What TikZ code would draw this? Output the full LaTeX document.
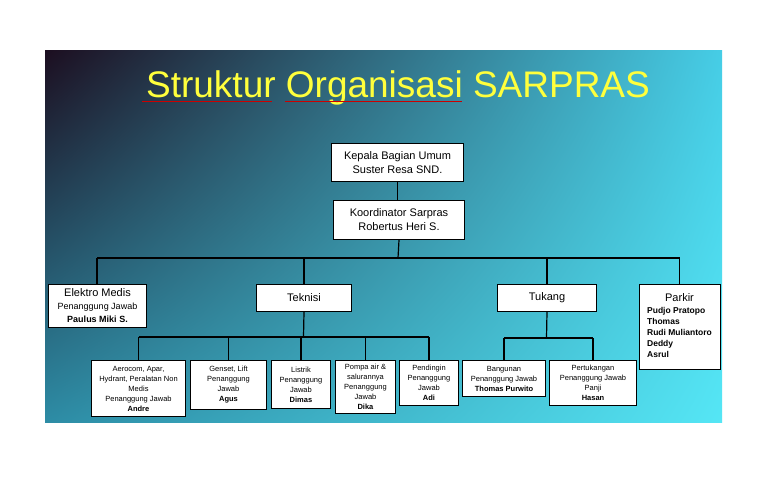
\documentclass[tikz,border=0pt]{standalone}
\usepackage{fontspec}
\usetikzlibrary{shadings}
\setmainfont{Liberation Sans}
\definecolor{cUL}{RGB}{28,14,32}
\definecolor{cUR}{RGB}{70,205,230}
\definecolor{cLL}{RGB}{45,140,165}
\definecolor{cLR}{RGB}{85,230,245}
\definecolor{titley}{RGB}{255,255,60}
\begin{document}
\begin{tikzpicture}[x=1pt,y=-1pt,
 box/.style={draw=black,line width=1pt,fill=white,inner sep=2pt,align=center,anchor=north west},
 ln/.style={line width=1.2pt,black},
 sq/.style={red!80!black,line width=0.6pt}]
\useasboundingbox (0,0) rectangle (768,501);
\fill[white] (0,0) rectangle (768,501);
\shade[upper left=cUL,upper right=cUR,lower left=cLL,lower right=cLR] (45,50) rectangle (722,422);
\node[text=titley,font=\fontsize{37}{40}\selectfont,anchor=base,inner sep=0pt] (title) at (398,97) {Struktur Organisasi SARPRAS};
\draw[sq] (142,101) -- (272,101);
\draw[sq] (285,101) -- (462,101);
% boxes
\node[box,minimum width=132pt,minimum height=38pt,font=\fontsize{11}{14}\selectfont] (kep) at (331,143) {Kepala Bagian Umum\\Suster Resa SND.};
\node[box,minimum width=131pt,minimum height=39pt,font=\fontsize{11}{14}\selectfont] (kor) at (333,200) {Koordinator Sarpras\\Robertus Heri S.};
\node[box,minimum width=98pt,minimum height=43pt,font=\fontsize{11}{13}\selectfont,inner sep=1pt] (ele) at (48,284) {Elektro Medis\\{\fontsize{9}{12}\selectfont Penanggung Jawab}\\{\fontsize{9}{12}\selectfont\bfseries Paulus Miki S.}};
\node[box,minimum width=95pt,minimum height=27pt,font=\fontsize{11}{13}\selectfont] (tek) at (256,284) {Teknisi};
\node[box,minimum width=99pt,minimum height=27pt,font=\fontsize{11}{13}\selectfont] (tuk) at (497,284) {Tukang};
\node[box,minimum width=81pt,minimum height=85pt,font=\fontsize{11}{13}\selectfont,anchor=north,inner sep=1pt] (par) at (679.5,284) {Parkir\\[3pt]{\fontsize{8.5}{11}\selectfont\bfseries\begin{tabular}{@{}l@{}}Pudjo Pratopo\\Thomas\\Rudi Muliantoro\\Deddy\\Asrul\end{tabular}}};
\begin{scope}[font=\fontsize{7.5}{10}\selectfont]
\node[box,minimum width=94pt,minimum height=56pt,inner sep=1pt] (aer) at (91,360) {Aerocom, Apar,\\Hydrant, Peralatan Non\\Medis\\Penanggung Jawab\\\textbf{Andre}};
\node[box,minimum width=76pt,minimum height=49pt] (gen) at (190,360) {Genset, Lift\\Penanggung\\Jawab\\\textbf{Agus}};
\node[box,minimum width=59pt,minimum height=48pt] (lis) at (271,360) {Listrik\\Penanggung\\Jawab\\\textbf{Dimas}};
\node[box,minimum width=60pt,minimum height=53pt,inner sep=1pt] (pom) at (335,360) {Pompa air \&\\salurannya\\Penanggung\\Jawab\\\textbf{Dika}};
\node[box,minimum width=59pt,minimum height=45pt] (pen) at (399,360) {Pendingin\\Penanggung\\Jawab\\\textbf{Adi}};
\node[box,minimum width=83pt,minimum height=36pt,inner sep=1pt] (ban) at (462,360) {Bangunan\\Penanggung Jawab\\\textbf{Thomas Purwito}};
\node[box,minimum width=87pt,minimum height=45pt,inner sep=1pt] (per) at (549,360) {Pertukangan\\Penanggung Jawab\\Panji\\\textbf{Hasan}};
\end{scope}
% connectors
\coordinate (h1) at (398,258);
\draw[ln] (kep.south) -- (kep.south |- kor.north);
\draw[ln] (kor.south) -- (h1);
\draw[ln] (97,258) -- (679.5,258);
\draw[ln] (97,258) -- (97,284);
\draw[ln] (tek.north) -- (tek.north |- h1);
\draw[ln] (tuk.north) -- (tuk.north |- h1);
\draw[ln] (par.north) -- (par.north |- h1);
\draw[ln] (tek.south) -- (303.5,337);
\draw[ln] (aer.north |- 0,337) -- (428.5,337);
\foreach \n in {aer,gen,lis,pom,pen} \draw[ln] (\n.north) -- (\n.north |- 0,337);
\draw[ln] (tuk.south) -- (546.5,338);
\draw[ln] (ban.north |- 0,338) -- (per.north |- 0,338);
\foreach \n in {ban,per} \draw[ln] (\n.north) -- (\n.north |- 0,338);
\end{tikzpicture}
\end{document}
